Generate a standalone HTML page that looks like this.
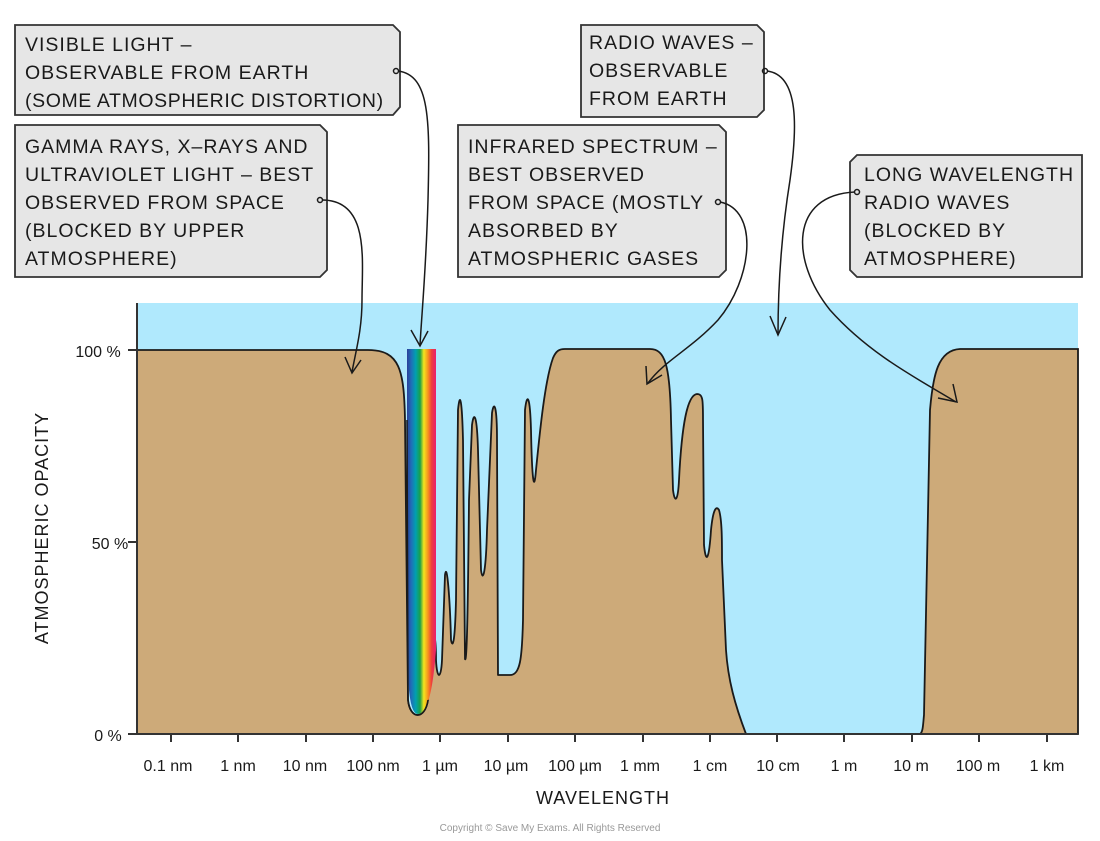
<!DOCTYPE html>
<html><head><meta charset="utf-8"><style>
html,body{margin:0;padding:0;background:#fff;}
svg{display:block;}
text{font-family:"Liberation Sans",sans-serif;fill:#1a1a1a;}
.b{font-size:19.5px;letter-spacing:1px;}
.t{font-size:16px;text-anchor:middle;}
</style></head><body>
<svg width="1100" height="841" viewBox="0 0 1100 841" xmlns="http://www.w3.org/2000/svg">
<defs>
<linearGradient id="rb" x1="0" x2="1" y1="0" y2="0">
<stop offset="0" stop-color="#2b3f9a"/><stop offset="0.15" stop-color="#1f6fb8"/><stop offset="0.3" stop-color="#00a0b0"/><stop offset="0.45" stop-color="#1aa04a"/><stop offset="0.58" stop-color="#f3e51e"/><stop offset="0.72" stop-color="#f7941d"/><stop offset="0.85" stop-color="#ee3d3d"/><stop offset="1" stop-color="#e8206f"/>
</linearGradient>
</defs>
<rect x="137" y="303" width="941" height="431" fill="#b0e9fd"/>
<path d="M137,734 L137,350 L368,350 C400,350 404,370 405,420 L408,700 C410,720 425,720 428,700 L431,640 C434,625 436,640 436,660 C437,680 441,680 442,660 L445,575 C447,560 450,600 451,640 C453,650 455,640 456,600 L458,410 C460,390 462,400 463,440 L465,659 C467,665 468,600 469,500 L472,425 C474,410 477,415 478,450 L481,570 C483,585 486,570 487,530 L492,413 C494,400 497,405 497,440 L498,675 L510,675 C520,675 522,660 523,620 L525,410 C527,392 530,395 531,430 C532,480 534,495 536,470 C540,430 545,380 553,358 C556,351 559,349 565,349 L650,349 C665,349 670,365 671,420 L673,490 C675,505 678,500 679,480 C682,420 688,395 697,394 C703,394 703,400 703,420 L704,545 C706,565 709,560 711,530 C713,510 716,505 719,510 C722,520 722,540 722,560 L726,650 C728,680 735,705 746,734 Z" fill="#cdaa79" stroke="#1a1a1a" stroke-width="1.8" stroke-linejoin="round"/>
<path d="M920,734 C923,732 923,725 924,715 L930,410 C933,375 938,350 960,349 L1078,349 L1078,734 Z" fill="#cdaa79" stroke="#1a1a1a" stroke-width="1.8"/>
<path d="M407,349 L436,349 L436,650 C434,675 430,714 418,714 C410,714 408,690 407,650 Z" fill="url(#rb)"/>
<path d="M407,420 L408,700 C410,720 425,720 428,700" fill="none" stroke="#1a1a1a" stroke-width="1.5"/>
<path d="M137,303 L137,734 L1078,734" fill="none" stroke="#333" stroke-width="2"/>
<g stroke="#333" stroke-width="2">
<line x1="128" y1="350" x2="137" y2="350"/><line x1="128" y1="542" x2="137" y2="542"/><line x1="128" y1="734" x2="137" y2="734"/>
<line x1="171" y1="734" x2="171" y2="742"/><line x1="238" y1="734" x2="238" y2="742"/><line x1="306" y1="734" x2="306" y2="742"/><line x1="373" y1="734" x2="373" y2="742"/><line x1="440" y1="734" x2="440" y2="742"/><line x1="508" y1="734" x2="508" y2="742"/><line x1="575" y1="734" x2="575" y2="742"/><line x1="643" y1="734" x2="643" y2="742"/><line x1="710" y1="734" x2="710" y2="742"/><line x1="777" y1="734" x2="777" y2="742"/><line x1="844" y1="734" x2="844" y2="742"/><line x1="912" y1="734" x2="912" y2="742"/><line x1="979" y1="734" x2="979" y2="742"/><line x1="1047" y1="734" x2="1047" y2="742"/>
</g>
<g>
<text x="98" y="357" class="t">100 %</text><text x="110" y="549" class="t">50 %</text><text x="108" y="741" class="t">0 %</text>
<text x="168" y="771" class="t">0.1 nm</text><text x="238" y="771" class="t">1 nm</text><text x="305" y="771" class="t">10 nm</text><text x="373" y="771" class="t">100 nm</text><text x="440" y="771" class="t">1 µm</text><text x="506" y="771" class="t">10 µm</text><text x="575" y="771" class="t">100 µm</text><text x="640" y="771" class="t">1 mm</text><text x="710" y="771" class="t">1 cm</text><text x="778" y="771" class="t">10 cm</text><text x="844" y="771" class="t">1 m</text><text x="911" y="771" class="t">10 m</text><text x="978" y="771" class="t">100 m</text><text x="1047" y="771" class="t">1 km</text>
</g>
<text x="603" y="804" class="t" style="font-size:18px;letter-spacing:1px">WAVELENGTH</text>
<text x="48" y="528" transform="rotate(-90 48 528)" class="t" style="font-size:18px;letter-spacing:1px">ATMOSPHERIC OPACITY</text>
<text x="550" y="831" class="t" style="font-size:10px;fill:#999">Copyright © Save My Exams. All Rights Reserved</text>
<g fill="#e6e6e6" stroke="#333" stroke-width="1.8">
<path d="M15,25 L393,25 L400,32 L400,107 L393,115 L15,115 Z"/>
<path d="M15,125 L320,125 L327,132 L327,270 L320,277 L15,277 Z"/>
<path d="M581,25 L757,25 L764,32 L764,110 L757,117 L581,117 Z"/>
<path d="M458,125 L719,125 L726,132 L726,270 L719,277 L458,277 Z"/>
<path d="M857,155 L1082,155 L1082,277 L857,277 L850,270 L850,162 Z"/>
</g>
<g>
<text x="25" y="51" class="b">VISIBLE LIGHT –</text><text x="25" y="79" class="b">OBSERVABLE FROM EARTH</text><text x="25" y="107" class="b" style="letter-spacing:0.6px">(SOME ATMOSPHERIC DISTORTION)</text>
<text x="25" y="153" class="b">GAMMA RAYS, X–RAYS AND</text><text x="25" y="181" class="b">ULTRAVIOLET LIGHT – BEST</text><text x="25" y="209" class="b">OBSERVED FROM SPACE</text><text x="25" y="237" class="b">(BLOCKED BY UPPER</text><text x="25" y="265" class="b">ATMOSPHERE)</text>
<text x="589" y="49" class="b">RADIO WAVES –</text><text x="589" y="77" class="b">OBSERVABLE</text><text x="589" y="105" class="b">FROM EARTH</text>
<text x="468" y="153" class="b">INFRARED SPECTRUM –</text><text x="468" y="181" class="b">BEST OBSERVED</text><text x="468" y="209" class="b">FROM SPACE (MOSTLY</text><text x="468" y="237" class="b">ABSORBED BY</text><text x="468" y="265" class="b">ATMOSPHERIC GASES</text>
<text x="864" y="181" class="b">LONG WAVELENGTH</text><text x="864" y="209" class="b">RADIO WAVES</text><text x="864" y="237" class="b">(BLOCKED BY</text><text x="864" y="265" class="b">ATMOSPHERE)</text>
</g>
<g fill="none" stroke="#1a1a1a" stroke-width="1.5">
<circle cx="396" cy="71" r="2.5"/><path d="M398,71 C430,75 430,120 428,200 C426,270 422,310 420,345"/><path d="M411,330 L420,346 L428,331"/>
<circle cx="320" cy="200" r="2.5"/><path d="M322,200 C370,200 362,260 362,300 C362,330 356,350 352,372"/><path d="M345,357 L352,373 L361,360"/>
<circle cx="718" cy="202" r="2.5"/><path d="M720,202 C760,210 752,280 718,320 C690,350 665,360 648,383"/><path d="M646,366 L647,384 L662,375"/>
<circle cx="765" cy="71" r="2.5"/><path d="M767,71 C800,75 797,130 790,180 C782,230 778,280 778,335"/><path d="M770,316 L778,335 L786,317"/>
<circle cx="857" cy="192" r="2.5"/><path d="M855,192 C790,195 790,260 830,310 C870,355 920,380 956,402"/><path d="M938,398 L957,402 L953,384"/>
</g>
</svg>
</body></html>
